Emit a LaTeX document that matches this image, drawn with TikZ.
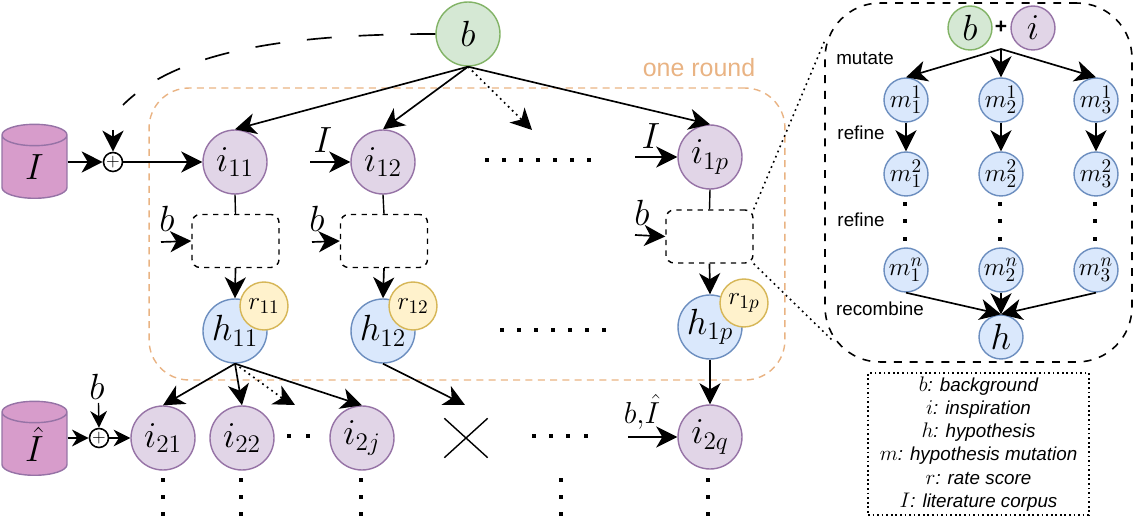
\documentclass[tikz,border=0pt]{standalone}
\usepackage{xcolor}
\usepackage{fontspec}
\usetikzlibrary{shapes.geometric,shapes.misc,arrows.meta}
\newfontfamily\labelfont{Liberation Sans}
\definecolor{CorpusFill}{HTML}{D79CCB}
\definecolor{InspFill}{HTML}{E1D5E7}
\definecolor{InspLine}{HTML}{9673A6}
\definecolor{BackFill}{HTML}{D5E8D4}
\definecolor{BackLine}{HTML}{82B366}
\definecolor{HypFill}{HTML}{DAE8FC}
\definecolor{HypLine}{HTML}{6C8EBF}
\definecolor{RateFill}{HTML}{FFF2CC}
\definecolor{RateLine}{HTML}{D6B656}
\definecolor{RoundCol}{HTML}{E9B383}
\tikzset{
	big/.style={circle, minimum size=1.28cm, inner sep=0pt, line width=.8pt, font=\fontsize{22}{26}\selectfont},
	small/.style={circle, minimum size=.88cm, inner sep=0pt, line width=.8pt, font=\fontsize{15}{18}\selectfont},
	ins/.style={big, draw=InspLine, fill=InspFill},
	bck/.style={big, draw=BackLine, fill=BackFill},
	hyp/.style={big, draw=HypLine, fill=HypFill},
	rate/.style={circle, minimum size=.96cm, inner sep=0pt, line width=.8pt, draw=RateLine, fill=RateFill, font=\fontsize{15}{18}\selectfont},
	corpus/.style={cylinder, shape border rotate=90, aspect=1.15, minimum width=1.3cm, minimum height=1.48cm, inner sep=0pt, draw=InspLine, fill=CorpusFill, line width=.8pt, font=\fontsize{22}{26}\selectfont},
	plus/.style={circle, draw, fill=white, minimum size=.38cm, inner sep=0pt, line width=.9pt, font=\normalsize},
	arr/.style={-{Stealth[length=12pt,width=12pt,inset=3.5pt]}, line width=.95pt},
	sarr/.style={-{Stealth[length=9.5pt,width=9.5pt,inset=3pt]}, line width=.8pt},
	dotarr/.style={line width=.95pt, dash pattern=on 1pt off 2.2pt},
	proc/.style={draw, dash pattern=on 3pt off 3pt, rounded corners=.16cm, minimum width=1.74cm, minimum height=1.06cm, inner sep=0pt, line width=.8pt},
	op/.style={font=\labelfont\fontsize{10.7}{13}\selectfont},
	lab/.style={font=\fontsize{20}{24}\selectfont},
}
\begin{document}
\begin{tikzpicture}[x=.02cm,y=-.02cm]
	\useasboundingbox (0,0) rectangle (1137,520);

	\node[draw=RoundCol, dash pattern=on 4pt off 3pt, rounded corners=.8cm, line width=.8pt, minimum width=12.72cm, minimum height=5.84cm] (round) at (467,234) {};
	\node[text=RoundCol, font=\labelfont\fontsize{14.2}{17}\selectfont] (roundlab) at (699,68) {one round};

	\node[corpus] (corpus1) at (34.5,167) {$I$};
	\node[corpus] (corpus2) at (34.5,444) {$\hat{I}$};
	\node[plus] (plus1) at (113,162) {$+$};
	\node[plus] (plus2) at (99,438) {$+$};

	\node[bck] (b) at (468,34) {$b$};
	\foreach \name/\x/\y/\lab in {i11/235/162/i_{11}, i12/383/162/i_{12}, i1p/710/157/i_{1p}, i21/163/438/i_{21}, i22/242/438/i_{22}, i2j/362/438/i_{2j}, i2q/710/437/i_{2q}} {
		\node[ins] (\name) at (\x,\y) {$\lab$};
	}
	\foreach \name/\x/\y/\lab in {h11/235/331/h_{11}, h12/383/331/h_{12}, h1p/710/327/h_{1p}} {
		\node[hyp] (\name) at (\x,\y) {$\lab$};
	}
	\foreach \name/\x/\y/\lab in {r11/264/306/r_{11}, r12/413/306/r_{12}, r1p/744/303/r_{1p}} {
		\node[rate] (\name) at (\x,\y) {$\lab$};
	}
	\foreach \name/\x/\y in {box11/235.5/241, box12/384/241, box1p/709.5/236.5} {
		\node[proc] (\name) at (\x,\y) {};
	}

	% free ends
	\foreach \name/\x/\y in {dotend1/532/130, dotmid1/520/118, dotend2/295/405, dotmid2/282/398, cutend/465/405, in12/310/162, in1p/635/157, inb11/161/242, inb12/312/242, inb1p/635/235, in2q/628/437, inb2/98.5/403, curveend/123/105, stem/113/130} {
		\coordinate (\name) at (\x,\y);
	}

	\draw[line width=.95pt, dash pattern=on 14.2pt off 15.3pt] (b.west) .. controls (300,34) and (180,48) .. (curveend);
	\draw[arr] (stem) -- (plus1.north);
	\draw[arr] (corpus1.east |- plus1) -- (plus1.west);
	\draw[arr] (plus1.east) -- (i11.west);
	\draw[sarr] (corpus2.east |- plus2) -- (plus2.west);
	\draw[sarr] (plus2.east) -- (i21.west);
	\draw[sarr] (inb2) -- (plus2.north);

	\foreach \to in {i11, i12, i1p} {\draw[arr] (b.south) -- (\to.north);}
	\draw[dotarr] (b.south) -- (dotmid1);
	\draw[arr] (dotmid1) -- (dotend1);
	\foreach \to in {i21, i22, i2j} {\draw[arr] (h11.south) -- (\to.north);}
	\draw[dotarr] (h11.south) -- (dotmid2);
	\draw[arr] (dotmid2) -- (dotend2);
	\draw[arr] (h12.south) -- (cutend);
	\draw[arr] (h1p.south) -- (i2q.north);

	\foreach \a/\bx/\c in {i11/box11/h11, i12/box12/h12, i1p/box1p/h1p} {
		\draw[line width=.8pt] (\a.south) -- (\bx.north);
		\draw[arr] (\bx.south) -- (\c.north);
	}
	\foreach \from/\to in {in12/i12.west, in1p/i1p.west, inb11/box11.west, inb12/box12.west, inb1p/box1p.west, in2q/i2q.west} {
		\draw[arr] (\from) -- (\to);
	}

	\foreach \name/\x/\y/\text in {labi12/323/140/I, labi1p/651/136/I, labb11/167/219/b, labb12/317/219/b, labb1p/642/213/b, labb2/97/387/b} {
		\node[lab] (\name) at (\x,\y) {$\text$};
	}
	\node[font=\fontsize{18}{22}\selectfont] (labb2q) at (642,412) {$b,\!\hat{I}$};

	\node[draw, cross out, minimum width=.84cm, minimum height=.76cm, inner sep=0pt, line width=.8pt] (cut) at (466,438) {};

	% dots
	\foreach \x in {487,504,...,590} {\fill (\x-2,160-2) rectangle ++(4,4);}
	\foreach \x in {502,519,...,606} {\fill (\x-2,330-2) rectangle ++(4,4);}
	\foreach \x in {289,308,534,551,568,586} {\fill (\x-2,436-2) rectangle ++(4,4);}
	\foreach \x in {163,241,361,561,708} {
		\foreach \y in {480,497,514} {\fill (\x-2,\y-2) rectangle ++(4,4);}
	}

	% zoomed panel
	\node[draw, dash pattern=on 4.5pt off 4.5pt, rounded corners=1.1cm, line width=.9pt, minimum width=6.14cm, minimum height=7.18cm] (panel) at (978.5,182.5) {};
	\draw[line width=.9pt, dash pattern=on 1pt off 2.2pt] (box1p.north east) -- (825,40);
	\draw[line width=.9pt, dash pattern=on 1pt off 2.2pt] (box1p.south east) -- (832,340);

	\node[small, draw=BackLine, fill=BackFill, font=\fontsize{20}{24}\selectfont] (pb) at (970,28) {$b$};
	\node[small, draw=InspLine, fill=InspFill, font=\fontsize{20}{24}\selectfont] (pi) at (1033,28) {$i$};
	\node[font=\labelfont\bfseries\fontsize{12}{14}\selectfont] (pplus) at (1001,27) {+};
	\coordinate (mix) at (1001,49);

	\foreach \k/\x in {1/906, 2/1001, 3/1096} {
		\node[small, draw=HypLine, fill=HypFill] (m\k a) at (\x,100) {$m_{\k}^{1}$};
		\node[small, draw=HypLine, fill=HypFill] (m\k b) at (\x,174) {$m_{\k}^{2}$};
		\node[small, draw=HypLine, fill=HypFill] (m\k n) at (\x,270) {$m_{\k}^{n}$};
		\draw[arr] (mix) -- (m\k a.north);
		\draw[arr] (m\k a.south) -- (m\k b.north);
		\foreach \y in {204,221,239} {\fill (\x-3,\y-2) rectangle ++(4,4);}
	}
	\node[small, draw=HypLine, fill=HypFill, font=\fontsize{20}{24}\selectfont] (ph) at (1001,337) {$h$};
	\foreach \k in {1,2,3} {\draw[arr] (m\k n.south) -- (ph.north);}

	\foreach \name/\x/\y/\text in {opa/865/59/mutate, opb/861/133/refine, opc/861/220/refine, opd/880/309/recombine} {
		\node[op] (\name) at (\x,\y) {\text};
	}

	% legend
	\node[draw, dash pattern=on 1pt off 1.6pt, line width=.9pt, minimum width=4.42cm, minimum height=2.84cm, inner sep=0pt, align=center, font=\labelfont\itshape\fontsize{10.7}{13.2}\selectfont] (legend) at (978.5,444) {{\large$b$}: background\\ {\large$i$}: inspiration\\ {\large$h$}: hypothesis\\ {\large$m$}: hypothesis mutation\\ {\large$r$}: rate score\\ {\large$I$}: literature corpus};
\end{tikzpicture}
\end{document}
